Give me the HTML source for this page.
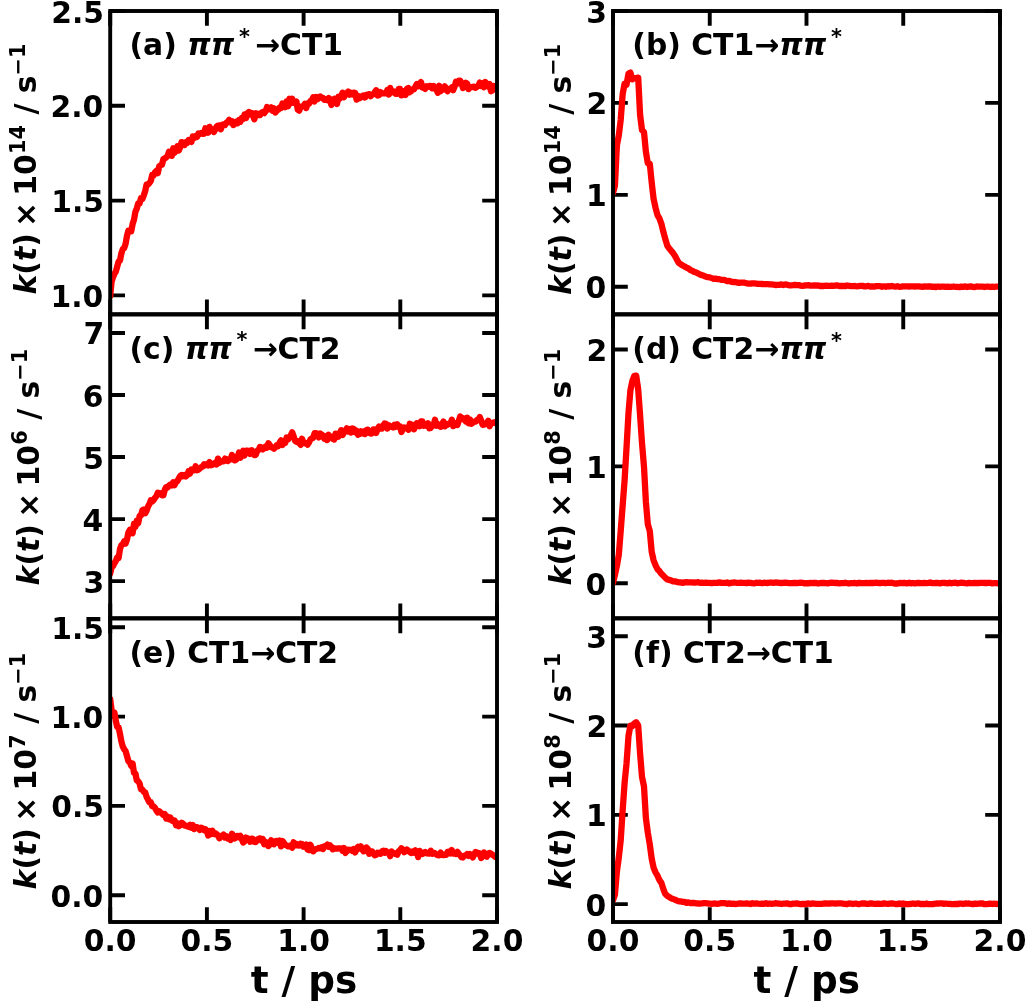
<!DOCTYPE html><html><head><meta charset="utf-8"><title>k(t) rates</title><style>html,body{margin:0;padding:0;background:#fff;overflow:hidden;}svg{display:block;}text{font-kerning:none;}</style></head><body>
<svg width="1025" height="1001" viewBox="0 0 1025 1001" font-family="'DejaVu Sans', 'Liberation Sans', sans-serif">
<rect width="1025" height="1001" fill="#fff"/>
<defs><clipPath id="ca"><rect x="110.2" y="11.0" width="386.80" height="303.35"/></clipPath><clipPath id="cb"><rect x="613.0" y="11.0" width="387.00" height="303.35"/></clipPath><clipPath id="cc"><rect x="110.2" y="314.35" width="386.80" height="304.00"/></clipPath><clipPath id="cd"><rect x="613.0" y="314.35" width="387.00" height="304.00"/></clipPath><clipPath id="ce"><rect x="110.2" y="618.35" width="386.80" height="303.65"/></clipPath><clipPath id="cf"><rect x="613.0" y="618.35" width="387.00" height="303.65"/></clipPath></defs>
<path d="M110.2,295.39h14.8M497.0,295.39h-14.8M110.2,200.59h14.8M497.0,200.59h-14.8M110.2,105.80h14.8M497.0,105.80h-14.8M110.2,11.00h14.8M497.0,11.00h-14.8M110.20,11.0v14.8M110.20,314.35v-14.8M206.90,11.0v14.8M206.90,314.35v-14.8M303.60,11.0v14.8M303.60,314.35v-14.8M400.30,11.0v14.8M400.30,314.35v-14.8M497.00,11.0v14.8M497.00,314.35v-14.8" stroke="#000" stroke-width="3.9" fill="none"/>
<path d="M613.0,286.77h14.8M1000.0,286.77h-14.8M613.0,194.85h14.8M1000.0,194.85h-14.8M613.0,102.92h14.8M1000.0,102.92h-14.8M613.0,11.00h14.8M1000.0,11.00h-14.8M613.00,11.0v14.8M613.00,314.35v-14.8M709.75,11.0v14.8M709.75,314.35v-14.8M806.50,11.0v14.8M806.50,314.35v-14.8M903.25,11.0v14.8M903.25,314.35v-14.8M1000.00,11.0v14.8M1000.00,314.35v-14.8" stroke="#000" stroke-width="3.9" fill="none"/>
<path d="M110.2,581.13h14.8M497.0,581.13h-14.8M110.2,519.08h14.8M497.0,519.08h-14.8M110.2,457.04h14.8M497.0,457.04h-14.8M110.2,395.00h14.8M497.0,395.00h-14.8M110.2,332.96h14.8M497.0,332.96h-14.8M110.20,314.35v14.8M110.20,618.35v-14.8M206.90,314.35v14.8M206.90,618.35v-14.8M303.60,314.35v14.8M303.60,618.35v-14.8M400.30,314.35v14.8M400.30,618.35v-14.8M497.00,314.35v14.8M497.00,618.35v-14.8" stroke="#000" stroke-width="3.9" fill="none"/>
<path d="M613.0,583.27h14.8M1000.0,583.27h-14.8M613.0,466.35h14.8M1000.0,466.35h-14.8M613.0,349.43h14.8M1000.0,349.43h-14.8M613.00,314.35v14.8M613.00,618.35v-14.8M709.75,314.35v14.8M709.75,618.35v-14.8M806.50,314.35v14.8M806.50,618.35v-14.8M903.25,314.35v14.8M903.25,618.35v-14.8M1000.00,314.35v14.8M1000.00,618.35v-14.8" stroke="#000" stroke-width="3.9" fill="none"/>
<path d="M110.2,895.21h14.8M497.0,895.21h-14.8M110.2,805.90h14.8M497.0,805.90h-14.8M110.2,716.59h14.8M497.0,716.59h-14.8M110.2,627.28h14.8M497.0,627.28h-14.8M110.20,618.35v14.8M110.20,922.0v-14.8M206.90,618.35v14.8M206.90,922.0v-14.8M303.60,618.35v14.8M303.60,922.0v-14.8M400.30,618.35v14.8M400.30,922.0v-14.8M497.00,618.35v14.8M497.00,922.0v-14.8" stroke="#000" stroke-width="3.9" fill="none"/>
<path d="M613.0,904.14h14.8M1000.0,904.14h-14.8M613.0,814.83h14.8M1000.0,814.83h-14.8M613.0,725.52h14.8M1000.0,725.52h-14.8M613.0,636.21h14.8M1000.0,636.21h-14.8M613.00,618.35v14.8M613.00,922.0v-14.8M709.75,618.35v14.8M709.75,922.0v-14.8M806.50,618.35v14.8M806.50,922.0v-14.8M903.25,618.35v14.8M903.25,922.0v-14.8M1000.00,618.35v14.8M1000.00,922.0v-14.8" stroke="#000" stroke-width="3.9" fill="none"/>
<path d="M110.2,296.0 L111.6,281.8 L113.0,277.4 L114.4,273.8 L115.8,271.8 L117.2,266.6 L118.6,261.6 L120.0,260.5 L121.4,253.1 L122.8,249.2 L124.2,248.0 L125.6,243.7 L127.0,235.9 L128.4,230.6 L129.8,231.2 L131.2,231.4 L132.6,224.1 L134.0,219.8 L135.4,211.7 L136.8,208.6 L138.2,203.4 L139.6,203.5 L141.0,198.1 L142.4,198.8 L143.8,195.3 L145.2,191.1 L146.6,184.3 L148.0,184.4 L149.4,183.0 L150.8,181.0 L152.2,175.0 L153.6,175.4 L155.0,172.4 L156.4,170.8 L157.8,173.1 L159.2,166.3 L160.6,165.3 L162.0,164.6 L163.4,159.1 L164.8,158.4 L166.2,157.4 L167.6,155.9 L169.0,151.7 L170.4,153.6 L171.8,155.8 L173.2,148.3 L174.6,152.8 L176.0,149.6 L177.4,146.2 L178.8,150.4 L180.2,147.2 L181.6,142.1 L183.0,144.6 L184.4,145.1 L185.8,142.2 L187.2,143.0 L188.6,140.1 L190.0,141.0 L191.4,142.0 L192.8,136.5 L194.2,138.0 L195.6,136.0 L197.0,137.0 L198.4,133.5 L199.8,133.9 L201.2,133.0 L202.6,133.8 L204.0,133.8 L205.4,128.2 L206.8,129.4 L208.2,132.7 L209.6,126.9 L211.0,129.5 L212.4,129.6 L213.8,132.0 L215.2,129.7 L216.6,126.4 L218.0,125.6 L219.4,125.5 L220.8,129.3 L222.2,124.6 L223.6,124.5 L225.0,125.1 L226.4,122.8 L227.8,122.0 L229.2,119.8 L230.6,122.4 L232.0,121.4 L233.4,125.1 L234.8,123.7 L236.2,121.9 L237.6,123.1 L239.0,120.0 L240.4,121.7 L241.8,118.0 L243.2,118.9 L244.6,114.4 L246.0,118.1 L247.4,113.3 L248.8,112.0 L250.2,114.5 L251.6,113.1 L253.0,115.6 L254.4,119.3 L255.8,113.3 L257.2,113.6 L258.6,115.1 L260.0,115.1 L261.4,112.8 L262.8,112.0 L264.2,113.1 L265.6,111.5 L267.0,107.1 L268.4,108.9 L269.8,109.4 L271.2,107.3 L272.6,110.7 L274.0,108.4 L275.4,112.6 L276.8,110.4 L278.2,109.7 L279.6,107.5 L281.0,108.0 L282.4,103.6 L283.8,104.4 L285.2,107.1 L286.6,101.4 L288.0,106.3 L289.4,98.8 L290.8,103.2 L292.2,98.7 L293.6,102.8 L295.0,103.0 L296.4,101.5 L297.8,109.7 L299.2,110.6 L300.6,107.0 L302.0,106.3 L303.4,106.2 L304.8,103.9 L306.2,108.1 L307.6,103.5 L309.0,103.7 L310.4,101.0 L311.8,100.3 L313.2,97.2 L314.6,101.4 L316.0,97.0 L317.4,99.2 L318.8,97.4 L320.2,96.4 L321.6,97.9 L323.0,98.0 L324.4,99.9 L325.8,99.5 L327.2,100.2 L328.6,98.0 L330.0,99.3 L331.4,105.0 L332.8,99.7 L334.2,98.8 L335.6,102.0 L337.0,104.0 L338.4,96.6 L339.8,98.4 L341.2,96.3 L342.6,92.7 L344.0,97.2 L345.4,94.2 L346.8,93.6 L348.2,91.6 L349.6,94.6 L351.0,92.8 L352.4,94.3 L353.8,92.6 L355.2,93.0 L356.6,99.6 L358.0,96.0 L359.4,98.2 L360.8,97.4 L362.2,96.1 L363.6,95.4 L365.0,97.5 L366.4,94.8 L367.8,94.5 L369.2,94.2 L370.6,96.2 L372.0,94.9 L373.4,94.2 L374.8,92.1 L376.2,90.3 L377.6,95.5 L379.0,95.1 L380.4,92.0 L381.8,93.0 L383.2,93.3 L384.6,93.3 L386.0,93.4 L387.4,90.1 L388.8,94.5 L390.2,87.9 L391.6,92.4 L393.0,91.2 L394.4,91.8 L395.8,93.9 L397.2,93.9 L398.6,89.0 L400.0,88.9 L401.4,95.4 L402.8,91.1 L404.2,93.2 L405.6,94.9 L407.0,88.8 L408.4,88.0 L409.8,92.2 L411.2,91.0 L412.6,89.5 L414.0,89.4 L415.4,86.5 L416.8,84.1 L418.2,86.3 L419.6,83.8 L421.0,82.1 L422.4,87.5 L423.8,87.0 L425.2,88.9 L426.6,86.2 L428.0,86.9 L429.4,86.0 L430.8,86.0 L432.2,88.3 L433.6,86.0 L435.0,88.8 L436.4,89.1 L437.8,92.8 L439.2,85.8 L440.6,91.2 L442.0,89.2 L443.4,89.5 L444.8,86.3 L446.2,88.6 L447.6,91.2 L449.0,88.9 L450.4,88.8 L451.8,87.4 L453.2,90.1 L454.6,86.6 L456.0,81.6 L457.4,83.4 L458.8,80.6 L460.2,80.6 L461.6,83.6 L463.0,88.1 L464.4,85.3 L465.8,82.7 L467.2,83.8 L468.6,89.1 L470.0,87.3 L471.4,87.3 L472.8,86.9 L474.2,86.6 L475.6,87.8 L477.0,86.7 L478.4,85.7 L479.8,82.6 L481.2,86.0 L482.6,83.2 L484.0,87.2 L485.4,82.0 L486.8,85.3 L488.2,86.4 L489.6,84.0 L491.0,91.2 L492.4,90.5 L493.8,86.1 L495.2,88.7 L496.6,87.6" fill="none" stroke="#f00" stroke-width="6.3" stroke-linejoin="round" stroke-linecap="round" clip-path="url(#ca)"/>
<path d="M613.0,193.0 L614.9,185.9 L616.9,145.3 L618.8,135.4 L620.7,119.8 L622.7,93.8 L624.6,83.7 L626.5,84.7 L628.5,73.5 L630.4,72.6 L632.3,79.4 L634.3,78.2 L636.2,78.1 L638.2,77.7 L640.1,115.0 L642.0,130.0 L644.0,132.1 L645.9,151.8 L647.8,163.2 L649.8,163.8 L651.7,182.5 L653.6,198.8 L655.6,208.0 L657.5,215.2 L659.4,218.4 L661.4,223.8 L663.3,231.7 L665.2,238.6 L667.2,245.4 L669.1,248.3 L671.0,250.6 L673.0,252.9 L674.9,255.7 L676.9,259.6 L678.8,262.9 L680.7,264.3 L682.7,265.5 L684.6,266.5 L686.5,267.7 L688.5,268.5 L690.4,270.0 L692.3,270.8 L694.3,272.0 L696.2,272.4 L698.1,273.5 L700.1,274.6 L702.0,275.1 L703.9,275.8 L705.9,276.7 L707.8,277.2 L709.7,277.4 L711.7,278.1 L713.6,278.8 L715.6,278.7 L717.5,279.1 L719.4,279.2 L721.4,279.9 L723.3,279.9 L725.2,280.2 L727.2,281.2 L729.1,280.9 L731.0,281.7 L733.0,282.1 L734.9,282.0 L736.8,282.4 L738.8,282.9 L740.7,282.6 L742.6,282.7 L744.6,282.7 L746.5,283.2 L748.4,283.7 L750.4,283.7 L752.3,283.3 L754.3,283.4 L756.2,283.6 L758.1,283.9 L760.1,283.9 L762.0,284.0 L763.9,284.1 L765.9,284.1 L767.8,284.2 L769.7,284.4 L771.7,284.4 L773.6,284.6 L775.5,285.0 L777.5,284.8 L779.4,284.8 L781.3,284.4 L783.3,285.0 L785.2,284.5 L787.1,284.7 L789.1,285.3 L791.0,285.4 L793.0,285.2 L794.9,284.9 L796.8,285.2 L798.8,285.2 L800.7,285.6 L802.6,285.9 L804.6,285.5 L806.5,285.3 L808.4,285.2 L810.4,285.6 L812.3,285.6 L814.2,285.3 L816.2,285.7 L818.1,285.4 L820.0,286.0 L822.0,286.0 L823.9,286.0 L825.8,285.6 L827.8,285.9 L829.7,285.8 L831.7,285.7 L833.6,285.8 L835.5,285.5 L837.5,285.5 L839.4,286.1 L841.3,285.9 L843.3,286.0 L845.2,286.2 L847.1,285.5 L849.1,285.8 L851.0,286.1 L852.9,286.1 L854.9,286.0 L856.8,286.3 L858.7,286.2 L860.7,285.8 L862.6,285.9 L864.5,286.4 L866.5,286.3 L868.4,285.8 L870.4,286.6 L872.3,286.4 L874.2,286.6 L876.2,286.2 L878.1,286.2 L880.0,286.1 L882.0,286.8 L883.9,286.3 L885.8,286.8 L887.8,286.2 L889.7,286.5 L891.6,286.0 L893.6,286.4 L895.5,286.7 L897.4,286.2 L899.4,286.8 L901.3,286.6 L903.2,286.3 L905.2,286.4 L907.1,286.4 L909.1,286.5 L911.0,286.4 L912.9,286.4 L914.9,286.5 L916.8,286.3 L918.7,286.3 L920.7,286.6 L922.6,286.9 L924.5,286.3 L926.5,286.7 L928.4,286.5 L930.3,286.4 L932.3,286.9 L934.2,286.6 L936.1,287.1 L938.1,286.5 L940.0,286.8 L941.9,286.7 L943.9,286.6 L945.8,286.9 L947.8,286.7 L949.7,286.9 L951.6,286.8 L953.6,286.5 L955.5,286.8 L957.4,286.8 L959.4,287.1 L961.3,286.6 L963.2,286.8 L965.2,286.4 L967.1,287.0 L969.0,286.6 L971.0,286.4 L972.9,286.8 L974.8,287.1 L976.8,286.5 L978.7,286.6 L980.6,286.7 L982.6,286.6 L984.5,287.0 L986.5,286.7 L988.4,286.7 L990.3,287.0 L992.3,286.7 L994.2,287.0 L996.1,286.7 L998.1,286.6 L1000.0,286.4" fill="none" stroke="#f00" stroke-width="6.3" stroke-linejoin="round" stroke-linecap="round" clip-path="url(#cb)"/>
<path d="M110.2,573.6 L111.6,567.1 L113.0,566.2 L114.4,563.2 L115.8,561.0 L117.2,557.5 L118.6,558.1 L120.0,548.9 L121.4,545.3 L122.8,544.2 L124.2,541.3 L125.6,543.5 L127.0,539.4 L128.4,532.5 L129.8,529.9 L131.2,530.9 L132.6,533.3 L134.0,523.8 L135.4,526.8 L136.8,520.7 L138.2,523.2 L139.6,516.0 L141.0,515.4 L142.4,510.3 L143.8,509.5 L145.2,513.3 L146.6,510.7 L148.0,506.6 L149.4,504.2 L150.8,500.3 L152.2,501.4 L153.6,500.0 L155.0,497.8 L156.4,496.2 L157.8,492.7 L159.2,494.1 L160.6,493.2 L162.0,495.3 L163.4,495.3 L164.8,489.7 L166.2,487.1 L167.6,487.6 L169.0,485.5 L170.4,484.5 L171.8,485.4 L173.2,482.3 L174.6,485.1 L176.0,481.9 L177.4,481.0 L178.8,478.4 L180.2,476.1 L181.6,475.0 L183.0,476.2 L184.4,475.1 L185.8,476.4 L187.2,475.2 L188.6,471.2 L190.0,473.6 L191.4,469.4 L192.8,470.3 L194.2,470.4 L195.6,466.3 L197.0,470.2 L198.4,469.8 L199.8,468.5 L201.2,467.2 L202.6,466.6 L204.0,464.4 L205.4,465.3 L206.8,464.1 L208.2,465.3 L209.6,462.1 L211.0,465.2 L212.4,464.8 L213.8,463.9 L215.2,462.8 L216.6,464.4 L218.0,458.6 L219.4,462.8 L220.8,461.7 L222.2,461.4 L223.6,461.3 L225.0,458.6 L226.4,459.2 L227.8,460.9 L229.2,460.1 L230.6,459.3 L232.0,455.0 L233.4,459.3 L234.8,460.4 L236.2,459.5 L237.6,457.2 L239.0,452.6 L240.4,457.8 L241.8,454.9 L243.2,450.7 L244.6,455.4 L246.0,450.7 L247.4,450.7 L248.8,451.0 L250.2,454.0 L251.6,450.2 L253.0,451.7 L254.4,455.1 L255.8,454.8 L257.2,450.7 L258.6,450.0 L260.0,446.9 L261.4,447.5 L262.8,449.3 L264.2,448.2 L265.6,446.5 L267.0,447.6 L268.4,443.2 L269.8,445.1 L271.2,447.3 L272.6,447.4 L274.0,448.7 L275.4,447.1 L276.8,445.2 L278.2,446.2 L279.6,442.5 L281.0,440.4 L282.4,444.9 L283.8,442.8 L285.2,442.9 L286.6,437.5 L288.0,439.4 L289.4,437.4 L290.8,435.4 L292.2,432.4 L293.6,436.1 L295.0,440.7 L296.4,441.8 L297.8,441.3 L299.2,443.2 L300.6,444.8 L302.0,438.7 L303.4,442.1 L304.8,443.3 L306.2,443.1 L307.6,444.6 L309.0,442.4 L310.4,439.5 L311.8,438.3 L313.2,437.9 L314.6,433.2 L316.0,433.2 L317.4,435.0 L318.8,437.4 L320.2,433.5 L321.6,434.5 L323.0,435.7 L324.4,438.8 L325.8,436.2 L327.2,440.1 L328.6,434.8 L330.0,436.7 L331.4,436.6 L332.8,438.9 L334.2,439.5 L335.6,433.6 L337.0,434.6 L338.4,436.6 L339.8,433.2 L341.2,430.2 L342.6,435.0 L344.0,432.5 L345.4,431.3 L346.8,428.3 L348.2,431.6 L349.6,429.0 L351.0,432.5 L352.4,428.4 L353.8,429.1 L355.2,432.1 L356.6,430.8 L358.0,434.7 L359.4,434.1 L360.8,431.3 L362.2,433.2 L363.6,431.7 L365.0,434.0 L366.4,430.0 L367.8,429.7 L369.2,432.8 L370.6,433.6 L372.0,433.3 L373.4,429.4 L374.8,429.8 L376.2,432.9 L377.6,428.9 L379.0,426.5 L380.4,428.5 L381.8,428.7 L383.2,425.5 L384.6,423.5 L386.0,423.9 L387.4,428.6 L388.8,425.2 L390.2,426.4 L391.6,426.8 L393.0,427.4 L394.4,424.9 L395.8,426.8 L397.2,424.3 L398.6,426.7 L400.0,426.4 L401.4,432.0 L402.8,429.3 L404.2,427.4 L405.6,428.0 L407.0,428.0 L408.4,429.7 L409.8,423.8 L411.2,424.4 L412.6,425.1 L414.0,429.3 L415.4,426.6 L416.8,423.2 L418.2,424.2 L419.6,426.1 L421.0,421.3 L422.4,421.4 L423.8,425.8 L425.2,425.0 L426.6,425.9 L428.0,423.2 L429.4,428.3 L430.8,427.9 L432.2,425.1 L433.6,425.3 L435.0,419.7 L436.4,425.7 L437.8,424.1 L439.2,425.9 L440.6,426.7 L442.0,424.5 L443.4,421.6 L444.8,426.4 L446.2,423.9 L447.6,424.7 L449.0,423.6 L450.4,423.7 L451.8,419.8 L453.2,426.1 L454.6,423.1 L456.0,424.2 L457.4,425.0 L458.8,420.7 L460.2,416.5 L461.6,418.7 L463.0,418.1 L464.4,419.9 L465.8,421.5 L467.2,417.7 L468.6,423.2 L470.0,419.4 L471.4,423.8 L472.8,422.7 L474.2,421.7 L475.6,421.7 L477.0,420.1 L478.4,419.7 L479.8,417.1 L481.2,420.7 L482.6,424.8 L484.0,424.7 L485.4,423.9 L486.8,423.2 L488.2,420.8 L489.6,426.3 L491.0,423.0 L492.4,422.9 L493.8,422.4 L495.2,423.1 L496.6,421.6" fill="none" stroke="#f00" stroke-width="6.3" stroke-linejoin="round" stroke-linecap="round" clip-path="url(#cc)"/>
<path d="M613.0,583.0 L614.9,575.0 L616.9,565.9 L618.8,554.8 L620.7,530.9 L622.7,504.9 L624.6,480.3 L626.5,448.0 L628.5,412.9 L630.4,390.4 L632.3,381.2 L634.3,375.9 L636.2,375.6 L638.2,389.5 L640.1,415.2 L642.0,443.1 L644.0,466.7 L645.9,502.0 L647.8,524.1 L649.8,531.1 L651.7,551.7 L653.6,560.3 L655.6,565.4 L657.5,569.2 L659.4,571.1 L661.4,573.8 L663.3,575.6 L665.2,577.6 L667.2,579.4 L669.1,579.9 L671.0,580.4 L673.0,581.3 L674.9,581.4 L676.9,581.9 L678.8,582.3 L680.7,582.4 L682.7,582.8 L684.6,582.4 L686.5,582.2 L688.5,582.4 L690.4,582.4 L692.3,582.3 L694.3,582.7 L696.2,582.5 L698.1,582.2 L700.1,582.9 L702.0,582.7 L703.9,582.8 L705.9,582.7 L707.8,582.9 L709.7,582.8 L711.7,583.1 L713.6,582.9 L715.6,582.9 L717.5,582.9 L719.4,582.4 L721.4,582.8 L723.3,582.8 L725.2,582.9 L727.2,582.5 L729.1,583.3 L731.0,582.9 L733.0,582.6 L734.9,582.5 L736.8,582.8 L738.8,582.9 L740.7,582.7 L742.6,582.9 L744.6,582.8 L746.5,583.1 L748.4,582.7 L750.4,582.9 L752.3,583.2 L754.3,583.4 L756.2,582.7 L758.1,582.8 L760.1,582.7 L762.0,583.2 L763.9,582.7 L765.9,582.8 L767.8,583.0 L769.7,582.7 L771.7,582.7 L773.6,582.9 L775.5,582.5 L777.5,582.6 L779.4,582.9 L781.3,583.0 L783.3,582.9 L785.2,582.6 L787.1,582.9 L789.1,583.2 L791.0,583.1 L793.0,583.0 L794.9,582.8 L796.8,583.2 L798.8,582.9 L800.7,582.7 L802.6,582.8 L804.6,583.4 L806.5,583.1 L808.4,583.3 L810.4,582.9 L812.3,583.2 L814.2,582.8 L816.2,583.0 L818.1,583.5 L820.0,583.2 L822.0,582.9 L823.9,583.0 L825.8,583.1 L827.8,583.3 L829.7,582.9 L831.7,582.6 L833.6,582.9 L835.5,583.0 L837.5,583.0 L839.4,583.3 L841.3,583.1 L843.3,583.2 L845.2,582.7 L847.1,583.2 L849.1,583.5 L851.0,583.2 L852.9,583.1 L854.9,583.0 L856.8,583.4 L858.7,582.8 L860.7,583.0 L862.6,583.1 L864.5,583.2 L866.5,582.9 L868.4,583.1 L870.4,582.9 L872.3,583.0 L874.2,583.0 L876.2,582.7 L878.1,583.0 L880.0,583.2 L882.0,582.8 L883.9,582.9 L885.8,583.2 L887.8,582.7 L889.7,583.0 L891.6,582.7 L893.6,583.3 L895.5,583.5 L897.4,583.5 L899.4,582.9 L901.3,583.2 L903.2,583.0 L905.2,583.0 L907.1,583.4 L909.1,582.7 L911.0,583.3 L912.9,583.0 L914.9,583.4 L916.8,583.0 L918.7,582.8 L920.7,583.1 L922.6,583.2 L924.5,583.0 L926.5,583.1 L928.4,582.9 L930.3,582.5 L932.3,583.2 L934.2,583.2 L936.1,583.0 L938.1,583.0 L940.0,583.3 L941.9,582.9 L943.9,582.8 L945.8,583.0 L947.8,583.3 L949.7,582.7 L951.6,583.3 L953.6,582.8 L955.5,582.7 L957.4,583.3 L959.4,583.0 L961.3,582.7 L963.2,582.9 L965.2,583.2 L967.1,583.3 L969.0,582.9 L971.0,583.1 L972.9,583.2 L974.8,582.8 L976.8,583.1 L978.7,583.0 L980.6,582.9 L982.6,582.9 L984.5,583.0 L986.5,583.0 L988.4,582.9 L990.3,582.9 L992.3,583.3 L994.2,583.1 L996.1,583.2 L998.1,583.3 L1000.0,583.1" fill="none" stroke="#f00" stroke-width="6.3" stroke-linejoin="round" stroke-linecap="round" clip-path="url(#cd)"/>
<path d="M110.2,699.2 L111.6,710.0 L113.0,714.0 L114.4,712.5 L115.8,720.7 L117.2,727.0 L118.6,727.3 L120.0,734.0 L121.4,741.5 L122.8,746.6 L124.2,749.3 L125.6,751.1 L127.0,756.1 L128.4,761.2 L129.8,762.2 L131.2,765.9 L132.6,763.5 L134.0,772.8 L135.4,773.5 L136.8,780.4 L138.2,781.3 L139.6,783.4 L141.0,789.4 L142.4,789.7 L143.8,791.8 L145.2,792.4 L146.6,796.9 L148.0,799.5 L149.4,802.3 L150.8,802.2 L152.2,806.3 L153.6,806.3 L155.0,807.8 L156.4,810.4 L157.8,812.5 L159.2,811.2 L160.6,812.4 L162.0,813.5 L163.4,815.0 L164.8,814.1 L166.2,818.5 L167.6,816.7 L169.0,819.1 L170.4,817.6 L171.8,820.5 L173.2,821.3 L174.6,820.5 L176.0,825.2 L177.4,823.2 L178.8,826.2 L180.2,825.2 L181.6,822.7 L183.0,823.6 L184.4,825.5 L185.8,825.4 L187.2,826.2 L188.6,826.7 L190.0,824.7 L191.4,827.7 L192.8,825.0 L194.2,829.0 L195.6,827.1 L197.0,827.2 L198.4,828.4 L199.8,830.0 L201.2,827.8 L202.6,828.2 L204.0,830.1 L205.4,829.2 L206.8,830.9 L208.2,835.6 L209.6,831.0 L211.0,834.2 L212.4,830.7 L213.8,834.0 L215.2,833.2 L216.6,834.1 L218.0,835.8 L219.4,838.3 L220.8,835.9 L222.2,836.1 L223.6,834.5 L225.0,837.6 L226.4,836.4 L227.8,838.4 L229.2,836.8 L230.6,840.0 L232.0,833.7 L233.4,836.4 L234.8,838.5 L236.2,836.3 L237.6,835.9 L239.0,837.3 L240.4,835.9 L241.8,839.1 L243.2,842.5 L244.6,841.5 L246.0,837.6 L247.4,838.1 L248.8,839.1 L250.2,841.8 L251.6,838.6 L253.0,839.0 L254.4,841.9 L255.8,842.0 L257.2,839.9 L258.6,838.8 L260.0,838.4 L261.4,840.5 L262.8,839.1 L264.2,844.2 L265.6,841.9 L267.0,843.8 L268.4,846.0 L269.8,844.6 L271.2,840.3 L272.6,843.8 L274.0,844.3 L275.4,841.1 L276.8,841.0 L278.2,842.8 L279.6,840.5 L281.0,846.4 L282.4,841.0 L283.8,842.8 L285.2,844.8 L286.6,845.4 L288.0,846.3 L289.4,846.4 L290.8,845.4 L292.2,847.7 L293.6,842.2 L295.0,845.3 L296.4,844.0 L297.8,845.5 L299.2,845.7 L300.6,843.7 L302.0,844.1 L303.4,846.7 L304.8,846.1 L306.2,844.6 L307.6,849.6 L309.0,850.1 L310.4,844.7 L311.8,848.2 L313.2,851.3 L314.6,849.8 L316.0,849.1 L317.4,848.6 L318.8,848.0 L320.2,848.4 L321.6,847.3 L323.0,849.0 L324.4,846.4 L325.8,846.0 L327.2,844.7 L328.6,846.8 L330.0,845.4 L331.4,846.9 L332.8,849.3 L334.2,848.2 L335.6,848.7 L337.0,848.7 L338.4,848.4 L339.8,848.4 L341.2,848.4 L342.6,850.8 L344.0,848.1 L345.4,853.0 L346.8,851.1 L348.2,849.7 L349.6,850.1 L351.0,849.7 L352.4,851.0 L353.8,849.2 L355.2,852.4 L356.6,848.8 L358.0,846.8 L359.4,848.5 L360.8,846.4 L362.2,849.5 L363.6,851.4 L365.0,850.8 L366.4,847.5 L367.8,848.8 L369.2,853.8 L370.6,851.5 L372.0,851.3 L373.4,853.5 L374.8,855.2 L376.2,854.7 L377.6,852.8 L379.0,853.3 L380.4,853.8 L381.8,851.6 L383.2,850.8 L384.6,852.8 L386.0,851.0 L387.4,852.6 L388.8,853.0 L390.2,856.2 L391.6,851.6 L393.0,853.1 L394.4,853.1 L395.8,854.1 L397.2,854.7 L398.6,851.4 L400.0,850.2 L401.4,848.3 L402.8,849.4 L404.2,852.1 L405.6,851.3 L407.0,849.6 L408.4,850.9 L409.8,851.9 L411.2,853.0 L412.6,851.5 L414.0,852.7 L415.4,850.4 L416.8,852.0 L418.2,857.1 L419.6,850.9 L421.0,853.3 L422.4,854.1 L423.8,852.9 L425.2,852.0 L426.6,853.3 L428.0,853.5 L429.4,853.6 L430.8,850.7 L432.2,853.8 L433.6,852.7 L435.0,853.2 L436.4,854.5 L437.8,855.1 L439.2,855.3 L440.6,852.6 L442.0,855.0 L443.4,855.2 L444.8,854.7 L446.2,854.8 L447.6,851.8 L449.0,851.6 L450.4,853.5 L451.8,850.1 L453.2,853.6 L454.6,853.1 L456.0,854.0 L457.4,851.9 L458.8,853.6 L460.2,855.4 L461.6,857.2 L463.0,857.5 L464.4,855.6 L465.8,855.4 L467.2,854.0 L468.6,855.8 L470.0,854.2 L471.4,855.4 L472.8,857.4 L474.2,854.3 L475.6,852.0 L477.0,853.5 L478.4,852.9 L479.8,853.6 L481.2,858.1 L482.6,855.9 L484.0,852.4 L485.4,855.9 L486.8,856.6 L488.2,853.6 L489.6,853.0 L491.0,853.6 L492.4,854.8 L493.8,855.6 L495.2,856.8 L496.6,857.1" fill="none" stroke="#f00" stroke-width="6.3" stroke-linejoin="round" stroke-linecap="round" clip-path="url(#ce)"/>
<path d="M613.0,900.3 L614.9,894.7 L616.9,871.6 L618.8,857.5 L620.7,840.4 L622.7,809.9 L624.6,782.9 L626.5,763.8 L628.5,735.9 L630.4,725.7 L632.3,726.2 L634.3,723.4 L636.2,722.3 L638.2,725.4 L640.1,753.6 L642.0,776.9 L644.0,786.5 L645.9,818.1 L647.8,832.5 L649.8,844.5 L651.7,858.6 L653.6,867.7 L655.6,872.5 L657.5,875.7 L659.4,880.1 L661.4,882.9 L663.3,888.9 L665.2,893.8 L667.2,895.8 L669.1,896.9 L671.0,898.3 L673.0,898.9 L674.9,899.6 L676.9,900.6 L678.8,901.3 L680.7,901.3 L682.7,901.9 L684.6,902.0 L686.5,902.8 L688.5,902.4 L690.4,903.1 L692.3,902.9 L694.3,903.0 L696.2,903.4 L698.1,903.5 L700.1,903.6 L702.0,903.4 L703.9,903.2 L705.9,903.2 L707.8,903.5 L709.7,903.6 L711.7,903.8 L713.6,903.5 L715.6,903.7 L717.5,903.9 L719.4,903.5 L721.4,903.1 L723.3,903.2 L725.2,903.2 L727.2,903.9 L729.1,903.3 L731.0,903.9 L733.0,903.7 L734.9,904.0 L736.8,903.8 L738.8,903.5 L740.7,903.5 L742.6,903.6 L744.6,903.6 L746.5,903.5 L748.4,903.6 L750.4,904.0 L752.3,903.2 L754.3,903.7 L756.2,903.4 L758.1,903.7 L760.1,903.8 L762.0,903.6 L763.9,903.8 L765.9,903.2 L767.8,903.9 L769.7,903.5 L771.7,903.8 L773.6,903.7 L775.5,903.2 L777.5,903.5 L779.4,903.7 L781.3,904.0 L783.3,903.7 L785.2,903.7 L787.1,903.3 L789.1,904.0 L791.0,904.1 L793.0,903.7 L794.9,903.6 L796.8,903.3 L798.8,903.9 L800.7,904.1 L802.6,903.9 L804.6,904.0 L806.5,903.8 L808.4,903.4 L810.4,904.0 L812.3,903.4 L814.2,903.6 L816.2,903.8 L818.1,903.9 L820.0,903.8 L822.0,903.8 L823.9,903.5 L825.8,903.4 L827.8,903.7 L829.7,903.5 L831.7,903.4 L833.6,903.4 L835.5,903.6 L837.5,903.3 L839.4,903.4 L841.3,903.3 L843.3,903.8 L845.2,903.8 L847.1,904.2 L849.1,903.4 L851.0,903.6 L852.9,904.0 L854.9,903.7 L856.8,903.7 L858.7,904.2 L860.7,903.7 L862.6,903.5 L864.5,903.4 L866.5,903.8 L868.4,903.8 L870.4,903.4 L872.3,903.5 L874.2,903.9 L876.2,903.9 L878.1,903.6 L880.0,903.9 L882.0,903.9 L883.9,903.3 L885.8,903.7 L887.8,903.9 L889.7,903.6 L891.6,903.3 L893.6,903.7 L895.5,904.0 L897.4,904.2 L899.4,903.3 L901.3,904.2 L903.2,903.5 L905.2,904.0 L907.1,904.1 L909.1,904.0 L911.0,903.8 L912.9,903.5 L914.9,903.9 L916.8,903.6 L918.7,903.3 L920.7,904.2 L922.6,904.0 L924.5,904.2 L926.5,903.6 L928.4,904.2 L930.3,904.2 L932.3,904.2 L934.2,903.8 L936.1,903.5 L938.1,903.7 L940.0,903.3 L941.9,903.4 L943.9,903.8 L945.8,903.5 L947.8,903.8 L949.7,903.8 L951.6,904.2 L953.6,904.1 L955.5,903.8 L957.4,904.1 L959.4,903.6 L961.3,903.7 L963.2,904.0 L965.2,903.5 L967.1,903.7 L969.0,903.5 L971.0,903.8 L972.9,904.2 L974.8,903.6 L976.8,903.9 L978.7,903.6 L980.6,903.5 L982.6,903.5 L984.5,904.2 L986.5,904.2 L988.4,903.9 L990.3,903.6 L992.3,904.0 L994.2,903.7 L996.1,904.0 L998.1,903.9 L1000.0,903.9" fill="none" stroke="#f00" stroke-width="6.3" stroke-linejoin="round" stroke-linecap="round" clip-path="url(#cf)"/>
<rect x="110.2" y="11.0" width="386.80" height="303.35" fill="none" stroke="#000" stroke-width="3.9"/>
<text x="103.33" y="306.89" text-anchor="end" font-size="29.8" font-weight="bold">1.0</text>
<text x="103.98" y="212.09" text-anchor="end" font-size="29.8" font-weight="bold">1.5</text>
<text x="103.33" y="117.30" text-anchor="end" font-size="29.8" font-weight="bold">2.0</text>
<text x="103.98" y="22.50" text-anchor="end" font-size="29.8" font-weight="bold">2.5</text>
<text transform="translate(36.0 0.00) rotate(-90) translate(-294.60 0)" font-size="29.8" font-weight="bold"><tspan x="0.00" y="0" font-style="italic">k</tspan><tspan x="19.85" y="0">(</tspan><tspan x="33.49" y="0" font-style="italic">t</tspan><tspan x="47.76" y="0">)</tspan><tspan x="67.62" y="0">×</tspan><tspan x="98.86 119.62" y="0">10</tspan><tspan x="140.68 155.19" y="-11.4" font-size="20.86">14</tspan><tspan x="169.71 180.08 190.97 201.34" y="0"> / s</tspan><tspan x="219.08 236.56" y="-11.4" font-size="20.86">−1</tspan></text>
<rect x="613.0" y="11.0" width="387.00" height="303.35" fill="none" stroke="#000" stroke-width="3.9"/>
<text x="606.13" y="298.27" text-anchor="end" font-size="29.8" font-weight="bold">0</text>
<text x="606.75" y="206.35" text-anchor="end" font-size="29.8" font-weight="bold">1</text>
<text x="607.29" y="114.42" text-anchor="end" font-size="29.8" font-weight="bold">2</text>
<text x="607.07" y="22.50" text-anchor="end" font-size="29.8" font-weight="bold">3</text>
<text transform="translate(571.0 0.00) rotate(-90) translate(-294.90 0)" font-size="29.8" font-weight="bold"><tspan x="0.00" y="0" font-style="italic">k</tspan><tspan x="19.85" y="0">(</tspan><tspan x="33.49" y="0" font-style="italic">t</tspan><tspan x="47.76" y="0">)</tspan><tspan x="67.62" y="0">×</tspan><tspan x="98.86 119.62" y="0">10</tspan><tspan x="140.68 155.19" y="-11.4" font-size="20.86">14</tspan><tspan x="169.71 180.08 190.97 201.34" y="0"> / s</tspan><tspan x="219.08 236.56" y="-11.4" font-size="20.86">−1</tspan></text>
<rect x="110.2" y="314.35" width="386.80" height="304.00" fill="none" stroke="#000" stroke-width="3.9"/>
<text x="104.27" y="592.63" text-anchor="end" font-size="29.8" font-weight="bold">3</text>
<text x="103.27" y="530.58" text-anchor="end" font-size="29.8" font-weight="bold">4</text>
<text x="103.98" y="468.54" text-anchor="end" font-size="29.8" font-weight="bold">5</text>
<text x="103.50" y="406.50" text-anchor="end" font-size="29.8" font-weight="bold">6</text>
<text x="104.27" y="344.46" text-anchor="end" font-size="29.8" font-weight="bold">7</text>
<text transform="translate(38.5 0.00) rotate(-90) translate(-585.40 0)" font-size="29.8" font-weight="bold"><tspan x="0.00" y="0" font-style="italic">k</tspan><tspan x="19.85" y="0">(</tspan><tspan x="33.49" y="0" font-style="italic">t</tspan><tspan x="47.76" y="0">)</tspan><tspan x="67.62" y="0">×</tspan><tspan x="98.86 119.62" y="0">10</tspan><tspan x="140.68" y="-11.4" font-size="20.86">6</tspan><tspan x="155.19 165.57 176.45 186.83" y="0"> / s</tspan><tspan x="204.56 222.04" y="-11.4" font-size="20.86">−1</tspan></text>
<rect x="613.0" y="314.35" width="387.00" height="304.00" fill="none" stroke="#000" stroke-width="3.9"/>
<text x="606.13" y="594.77" text-anchor="end" font-size="29.8" font-weight="bold">0</text>
<text x="606.75" y="477.85" text-anchor="end" font-size="29.8" font-weight="bold">1</text>
<text x="607.29" y="360.93" text-anchor="end" font-size="29.8" font-weight="bold">2</text>
<text transform="translate(571.0 0.00) rotate(-90) translate(-585.40 0)" font-size="29.8" font-weight="bold"><tspan x="0.00" y="0" font-style="italic">k</tspan><tspan x="19.85" y="0">(</tspan><tspan x="33.49" y="0" font-style="italic">t</tspan><tspan x="47.76" y="0">)</tspan><tspan x="67.62" y="0">×</tspan><tspan x="98.86 119.62" y="0">10</tspan><tspan x="140.68" y="-11.4" font-size="20.86">8</tspan><tspan x="155.19 165.57 176.45 186.83" y="0"> / s</tspan><tspan x="204.56 222.04" y="-11.4" font-size="20.86">−1</tspan></text>
<rect x="110.2" y="618.35" width="386.80" height="303.65" fill="none" stroke="#000" stroke-width="3.9"/>
<text x="103.33" y="906.71" text-anchor="end" font-size="29.8" font-weight="bold">0.0</text>
<text x="103.98" y="817.40" text-anchor="end" font-size="29.8" font-weight="bold">0.5</text>
<text x="103.33" y="728.09" text-anchor="end" font-size="29.8" font-weight="bold">1.0</text>
<text x="103.98" y="638.78" text-anchor="end" font-size="29.8" font-weight="bold">1.5</text>
<text transform="translate(36.0 0.00) rotate(-90) translate(-889.40 0)" font-size="29.8" font-weight="bold"><tspan x="0.00" y="0" font-style="italic">k</tspan><tspan x="19.85" y="0">(</tspan><tspan x="33.49" y="0" font-style="italic">t</tspan><tspan x="47.76" y="0">)</tspan><tspan x="67.62" y="0">×</tspan><tspan x="98.86 119.62" y="0">10</tspan><tspan x="140.68" y="-11.4" font-size="20.86">7</tspan><tspan x="155.19 165.57 176.45 186.83" y="0"> / s</tspan><tspan x="204.56 222.04" y="-11.4" font-size="20.86">−1</tspan></text>
<rect x="613.0" y="618.35" width="387.00" height="303.65" fill="none" stroke="#000" stroke-width="3.9"/>
<text x="606.13" y="915.64" text-anchor="end" font-size="29.8" font-weight="bold">0</text>
<text x="606.75" y="826.33" text-anchor="end" font-size="29.8" font-weight="bold">1</text>
<text x="607.29" y="737.02" text-anchor="end" font-size="29.8" font-weight="bold">2</text>
<text x="607.07" y="647.71" text-anchor="end" font-size="29.8" font-weight="bold">3</text>
<text transform="translate(571.0 0.00) rotate(-90) translate(-889.40 0)" font-size="29.8" font-weight="bold"><tspan x="0.00" y="0" font-style="italic">k</tspan><tspan x="19.85" y="0">(</tspan><tspan x="33.49" y="0" font-style="italic">t</tspan><tspan x="47.76" y="0">)</tspan><tspan x="67.62" y="0">×</tspan><tspan x="98.86 119.62" y="0">10</tspan><tspan x="140.68" y="-11.4" font-size="20.86">8</tspan><tspan x="155.19 165.57 176.45 186.83" y="0"> / s</tspan><tspan x="204.56 222.04" y="-11.4" font-size="20.86">−1</tspan></text>
<text x="110.20" y="951.2" text-anchor="middle" font-size="29.8" font-weight="bold">0.0</text>
<text x="206.90" y="951.2" text-anchor="middle" font-size="29.8" font-weight="bold">0.5</text>
<text x="303.60" y="951.2" text-anchor="middle" font-size="29.8" font-weight="bold">1.0</text>
<text x="400.30" y="951.2" text-anchor="middle" font-size="29.8" font-weight="bold">1.5</text>
<text x="497.00" y="951.2" text-anchor="middle" font-size="29.8" font-weight="bold">2.0</text>
<text x="250.65 268.53 281.55 295.21 308.23 335.00" y="993.4" font-size="37.4" font-weight="bold">t / ps</text>
<text x="613.00" y="951.2" text-anchor="middle" font-size="29.8" font-weight="bold">0.0</text>
<text x="709.75" y="951.2" text-anchor="middle" font-size="29.8" font-weight="bold">0.5</text>
<text x="806.50" y="951.2" text-anchor="middle" font-size="29.8" font-weight="bold">1.0</text>
<text x="903.25" y="951.2" text-anchor="middle" font-size="29.8" font-weight="bold">1.5</text>
<text x="1000.00" y="951.2" text-anchor="middle" font-size="29.8" font-weight="bold">2.0</text>
<text x="753.45 771.33 784.35 798.01 811.03 837.80" y="993.4" font-size="37.4" font-weight="bold">t / ps</text>
<text font-size="29.8" font-weight="bold"><tspan x="129.40 143.02 163.13" y="55.0">(a)</tspan><tspan x="187.14 210.75" y="55.0" font-style="italic">ππ</tspan><tspan x="239.00" y="43.60" font-size="20.86">*</tspan><tspan x="255.09 280.06 301.93 322.26" y="55.0">→CT1</tspan></text>
<text font-size="29.8" font-weight="bold"><tspan x="632.30 645.92 667.25 680.87 691.25 713.12 733.44 754.18" y="55.1">(b) CT1→</tspan><tspan x="779.15 802.76" y="55.1" font-style="italic">ππ</tspan><tspan x="831.01" y="43.70" font-size="20.86">*</tspan></text>
<text font-size="29.8" font-weight="bold"><tspan x="129.40 143.02 160.68" y="358.85">(c)</tspan><tspan x="184.70 208.31" y="358.85" font-style="italic">ππ</tspan><tspan x="236.56" y="347.45" font-size="20.86">*</tspan><tspan x="252.65 277.62 299.49 319.81" y="358.85">→CT2</tspan></text>
<text font-size="29.8" font-weight="bold"><tspan x="632.30 645.92 667.25 680.87 691.25 713.12 733.44 754.18" y="359.2">(d) CT2→</tspan><tspan x="779.15 802.76" y="359.2" font-style="italic">ππ</tspan><tspan x="831.01" y="347.80" font-size="20.86">*</tspan></text>
<text x="129.40 143.02 163.23 176.85 187.22 209.09 229.42 250.16 275.13 297.00 317.32" y="662.5" font-size="29.8" font-weight="bold">(e) CT1→CT2</text>
<text x="632.30 645.92 658.88 672.50 682.88 704.75 725.08 745.81 770.78 792.65 812.98" y="662.5" font-size="29.8" font-weight="bold">(f) CT2→CT1</text>
</svg></body></html>
